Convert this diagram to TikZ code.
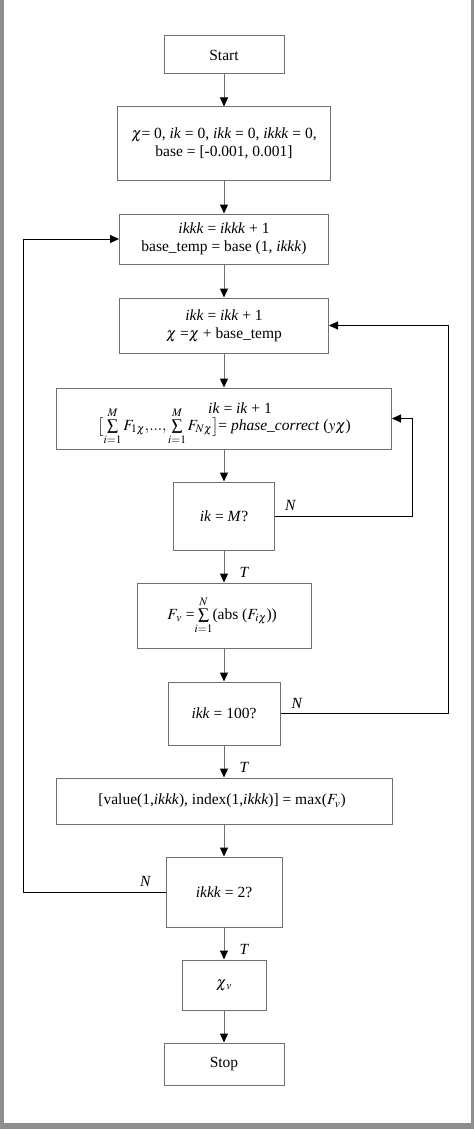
\documentclass[tikz,border=0pt]{standalone}
\usepackage{mathptmx}
\usepackage{fontspec}
\setmainfont{Liberation Serif}
\usetikzlibrary{positioning,arrows.meta}
\definecolor{frameGray}{HTML}{8E8E8E}
\definecolor{edgeGray}{HTML}{707070}

\begin{document}
\begin{tikzpicture}[x=1pt, y=-1pt,
    font=\fontsize{15.5}{18}\selectfont,
    boxStyle/.style={rectangle, draw=edgeGray, fill=white, line width=1pt, align=center, inner sep=2pt},
    boxSize/.style 2 args={minimum width=#1pt, minimum height=#2pt},
    arrowStyle/.style={-{Triangle[width=8pt,length=9pt,color=black]}, line width=1pt, draw=edgeGray},
    loopStyle/.style={-{Triangle[width=8pt,length=9pt]}, line width=1pt, draw=black},
    labelStyle/.style={font=\fontsize{15.5}{18}\selectfont\itshape, inner sep=1pt}
]
    \useasboundingbox (0,0) rectangle (474,1129);
    \fill[frameGray] (0,0) rectangle (474,1129);
    \fill[white] (3.5,0) rectangle (470.5,1123);

    \node[boxStyle, boxSize={120}{38}] (start) at (224,55) {Start};

    \node[boxStyle, boxSize={213}{73}] (init) at (224,143.5) {
        $\chi$= 0, \textit{ik} = 0, \textit{ikk} = 0, \textit{ikkk} = 0,\\
        base = [-0.001, 0.001]
    };

    \node[boxStyle, boxSize={209}{50}] (outer) at (224,239) {
        \textit{ikkk} = \textit{ikkk} + 1\\
        base\_temp = base (1, \textit{ikkk})
    };

    \node[boxStyle, boxSize={209}{55}] (inner) at (224,325.5) {
        \textit{ikk} = \textit{ikk} + 1\\
        $\chi$ =$\chi$ + base\_temp
    };

    \node[boxStyle, boxSize={335}{61}] (calc) at (224,418.5) {
        \hspace*{32pt}\textit{ik} = \textit{ik} + 1\\[-1pt]
        \smash{$\bigl[\sum\limits_{i=1}^{M} F_{1\chi}{,}...{,}\sum\limits_{i=1}^{M} F_{N\chi}\bigr]$}= \textit{phase\_correct} ($y\chi$)
    };

    \node[boxStyle, boxSize={101}{68}] (chkIk) at (224,516) {\textit{ik} = \textit{M}?};

    \node[boxStyle, boxSize={174}{65}] (fSum) at (224,615.5) {
        $F_{\,v}$ =$\sum\limits_{i=1}^{N}$(abs ($F_{i\chi}$))
    };

    \node[boxStyle, boxSize={112}{63}] (chkIkk) at (224,713.5) {\textit{ikk} = 100?};

    \node[boxStyle, boxSize={336}{46}] (maxVal) at (224,801) {
        [value(1,\textit{ikkk}), index(1,\textit{ikkk})] = max($F_v$)
    };

    \node[boxStyle, boxSize={116}{70}] (chkIkkk) at (224,892) {\textit{ikkk} = 2?};

    \node[boxStyle, boxSize={84}{50}] (chiV) at (224,985) {$\chi_{\,v}$};

    \node[boxStyle, boxSize={120}{42}] (stop) at (224,1064) {Stop};

    \coordinate (loopA) at (412,0);
    \coordinate (loopB) at (448,0);
    \coordinate (loopC) at (23,0);

    \draw[arrowStyle] (start) -- (init);
    \draw[arrowStyle] (init) -- (outer);
    \draw[arrowStyle] (outer) -- (inner);
    \draw[arrowStyle] (inner) -- (calc);
    \draw[arrowStyle] (calc) -- (chkIk);
    \draw[arrowStyle] (chkIk) -- node[labelStyle, pos=0.7, right=14pt] {T} (fSum);
    \draw[arrowStyle] (fSum) -- (chkIkk);
    \draw[arrowStyle] (chkIkk) -- node[labelStyle, pos=0.7, right=14pt] {T} (maxVal);
    \draw[arrowStyle] (maxVal) -- (chkIkkk);
    \draw[arrowStyle] (chkIkkk) -- node[labelStyle, pos=0.7, right=14pt] {T} (chiV);
    \draw[arrowStyle] (chiV) -- (stop);

    \draw[loopStyle] (chkIk.east) node[labelStyle, above right=4pt and 8.5pt] {N}
        -- (chkIk.east -| loopA) |- (calc.east);
    \draw[loopStyle] (chkIkk.east) node[labelStyle, above right=4pt and 9.5pt] {N}
        -- (chkIkk.east -| loopB) |- (inner.east);
    \draw[loopStyle] (chkIkkk.west) node[labelStyle, above left=4pt and 13.5pt] {N}
        -- (chkIkkk.west -| loopC) |- (outer.west);
\end{tikzpicture}
\end{document}
